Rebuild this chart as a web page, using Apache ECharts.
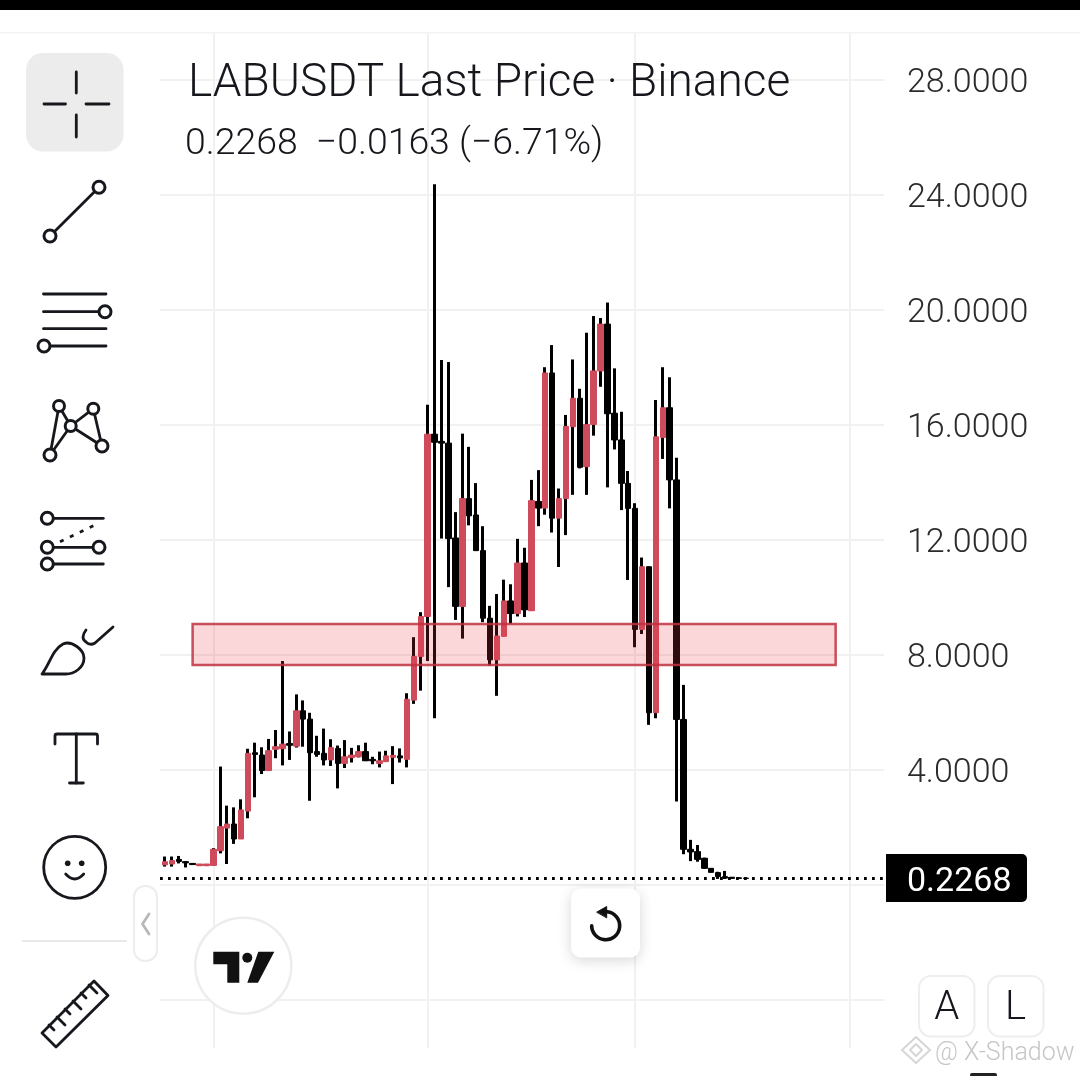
<!DOCTYPE html>
<html><head><meta charset="utf-8">
<style>html,body{margin:0;padding:0;background:#fff}#c{width:1080px;height:1076px}</style>
<script src="https://cdn.jsdelivr.net/npm/echarts@6/dist/echarts.min.js"></script>
</head><body><div id="c"></div>
<script>
const opens=[.70,.73,.89,.81,.75,.67,.67,.68,1.19,1.98,2.12,1.60,2.57,4.60,4.52,3.98,4.72,4.74,4.92,4.83,6.06,5.77,4.64,4.58,4.35,4.75,4.23,4.43,4.46,4.64,4.37,4.23,4.29,4.44,4.49,4.37,6.43,7.95,9.34,15.68,15.43,15.37,12.07,9.69,13.44,12.87,11.63,9.28,7.83,8.65,9.88,9.44,11.20,9.54,13.34,13.11,17.81,12.76,13.44,15.94,16.93,14.55,16.02,17.88,19.51,16.41,15.48,13.97,13.10,8.89,11.07,5.99,15.57,16.60,14.09,5.76,1.24,1.16,.93,.58,.43,.29,.27,.25,.24];
const closes=[.81,.85,.82,.77,.71,.73,.73,1.24,2.03,2.12,1.60,2.61,4.58,4.54,3.98,4.67,4.81,4.90,4.86,6.06,5.77,4.60,4.54,4.35,4.78,4.23,4.46,4.52,4.64,4.32,4.32,4.32,4.49,4.51,4.42,6.46,7.95,9.34,15.68,15.40,15.37,12.05,9.69,13.44,12.84,11.63,9.28,7.83,8.66,9.88,9.44,11.20,9.57,13.37,13.11,17.81,12.76,13.44,15.95,16.93,14.53,16.02,17.88,19.51,16.39,15.48,13.97,13.10,8.89,11.07,5.99,15.59,16.60,14.09,5.76,1.24,1.15,.89,.58,.44,.29,.24,.23,.23,.2268];
const lows=[.64,.64,.75,.61,.71,.67,.67,.68,1.10,.73,1.43,1.60,2.32,3.05,3.86,3.98,4.41,4.16,4.35,4.78,4.81,2.93,4.46,4.16,4.14,3.36,4.07,4.26,4.44,4.32,4.20,4.09,4.29,3.51,4.26,4.09,6.30,6.76,7.79,5.80,12.05,10.36,9.22,8.57,12.51,11.63,9.14,7.63,6.58,8.65,9.09,9.34,9.32,9.54,12.48,12.88,12.26,11.06,12.17,13.57,14.49,13.57,15.63,17.33,13.83,15.15,13.04,10.61,8.27,8.73,5.57,5.80,14.82,13.10,2.90,1.07,.83,.81,.56,.44,.21,.21,.21,.22,.22];
const highs=[.99,.99,1.01,.83,.75,.73,.73,1.28,4.12,2.76,2.70,2.98,4.74,4.95,4.79,5.08,5.39,7.79,5.34,6.63,6.42,5.99,5.19,5.44,5.07,4.85,5.04,4.77,4.86,4.95,4.46,4.64,4.67,4.83,4.75,6.67,8.62,9.49,16.70,24.37,18.26,18.19,12.97,15.70,15.24,13.98,12.48,9.71,10.12,10.62,10.46,12.04,11.73,14.09,14.43,18.01,18.78,13.79,16.35,18.28,17.26,19.21,19.79,19.72,20.26,17.97,16.46,14.40,13.28,11.39,11.07,16.87,18.01,17.66,14.86,6.96,1.57,1.39,.95,.58,.46,.49,.27,.26,.24];
const lastPrice=0.2268;
const zoneTop=9.08, zoneBottom=7.65;
const zoneStartIndex=4, zoneEndIndex=97;
const monthStartIndexes=[7,38,68,99];
const slotCount=105;
const categories=[];
for(let i=0;i<slotCount;i++){const d=new Date(Date.UTC(2025,6,25+i));categories.push(d.toISOString().slice(0,10));}

const INK='#16181d', RED='#cf4a5a', FONT='Roboto';
const s=(o)=>Object.assign({stroke:INK,lineWidth:2.8,fill:null,lineCap:'round',lineJoin:'round'},o);
const line=(x1,y1,x2,y2,st)=>({type:'line',shape:{x1,y1,x2,y2},style:s(st||{}),z:50,silent:true});
const ring=(cx,cy,r)=>({type:'circle',shape:{cx,cy,r},style:s({fill:'#fff',lineWidth:3}),z:52,silent:true});
let pathId=0;
const path=(d,st)=>{const n='iconPath'+(pathId++);echarts.graphic.registerShape(n,echarts.graphic.extendPath(d,{}));return {type:n,style:s(st||{}),z:50,silent:true};};
const text=(t,x,y,size,o)=>({type:'text',x,y,z:60,silent:true,style:Object.assign({text:t,font:`${(o&&o.weight)||300} ${size}px ${FONT}`,fill:'#15171c',verticalAlign:'middle',align:'left'},o||{})});
const box=(x,y,w,h,r,st)=>({type:'rect',shape:{x,y,width:w,height:h,r},style:st,z:48,silent:true});

const rulerTicks=[];
[[49,1025,54,1030],[57,1017,65,1025],[65,1009,70,1014],[73,1001,81,1009],[81,993,86,998],[89,985,97,993]].forEach(a=>rulerTicks.push(line(a[0],a[1],a[2],a[3])));

const graphics=[
 box(0,0,1080,10,0,{fill:'#000'}),
 box(0,32,1080,1.5,0,{fill:'#f3f3f3'}),
 // crosshair tool
 box(26,53,97.5,98.5,17,{fill:'#ececec'}),
 line(76.3,72,76.3,93),line(76.3,115,76.3,137),line(44,104,65.5,104),line(86,104,109,104),
 // trend line
 line(50,236,99,187.3),ring(99,187.3,6),ring(50,236,6),
 // fib lines
 line(43.5,294,106,294),line(43.5,311.7,105,311.7),line(43.5,328.7,106,328.7),line(44,346,106,346),ring(105,311.7,6),ring(44,346,6),
 // pattern
 line(59,406,50,455),line(59,406,70.7,426),line(70.7,426,50,455),line(70.7,426,93.3,408.7),line(93.3,408.7,102,446),line(70.7,426,102,446),
 ring(59,406,5.5),ring(93.3,408.7,5.5),ring(70.7,426,5.5),ring(50,455,6),ring(102,446,6),
 // forecast
 line(47,518.3,103.3,518.3),line(47,547.3,99,547.3),line(47,564,103.3,564),
 line(60,541.7,98.3,523.3,{lineDash:[4,7],lineCap:'butt'}),
 ring(47.3,518.3,6),ring(47.3,547.3,6),ring(99,547.3,6),ring(47.3,564,6),
 // brush
 path('M42 674 C50 664 52 650 63 644 C72 640 84 650 84 658 C84 668 74 674 66 674 Z'),
 path('M86 630 Q80 638 86 642 Q90 646 95 643 L113 627'),
 // text tool
 path('M55 744 L55 736 Q55 734 57 734 L95.5 734 Q97.5 734 97.5 736 L97.5 744'),line(76.3,734,76.3,783),line(69.5,783,83.3,783),
 // smile
 {type:'circle',shape:{cx:74.7,cy:867.3,r:31},style:s({}),z:50,silent:true},
 {type:'circle',shape:{cx:67.7,cy:863.3,r:2.8},style:{fill:INK},z:50,silent:true},
 {type:'circle',shape:{cx:81.7,cy:863.3,r:2.8},style:{fill:INK},z:50,silent:true},
 path('M65.7 874 Q74.7 884 83.7 874'),
 // separator
 line(23,941,126,941,{stroke:'#e8e8e8',lineWidth:2}),
 // ruler
 path('M42 1033 L94 981 L108 995.5 L56 1047 Z'),
 ...rulerTicks,
 // collapse handle
 box(134,886,23,75,11,{fill:'#fff',stroke:'#ededed',lineWidth:2}),
 path('M149 914 L142.5 924 L149 934',{stroke:'#b8b8b8'}),
 // logo
 {type:'circle',shape:{cx:243.3,cy:965.7,r:48},style:{fill:'#fff',stroke:'#ededed',lineWidth:2.5},z:48,silent:true},
 path('M213.3 951.7 L239.3 951.7 L239.3 982.7 L227.3 982.7 L227.3 964.3 L213.3 964.3 Z',{fill:'#111',stroke:null,lineWidth:0}),
 {type:'circle',shape:{cx:247.3,cy:957.7,r:5},style:{fill:'#111'},z:50,silent:true},
 path('M258.3 951.7 L274.3 951.7 L258 982.7 L247.3 982.7 Z',{fill:'#111',stroke:null,lineWidth:0}),
 // reset button
 {type:'rect',shape:{x:571,y:888.5,width:69,height:69,r:10},style:{fill:'#fff',shadowBlur:14,shadowColor:'rgba(0,0,0,0.16)',shadowOffsetY:3},z:48,silent:true},
 {type:'arc',shape:{cx:605.7,cy:925.7,r:14,startAngle:-Math.PI/2+0.1,endAngle:Math.PI,clockwise:true},style:{stroke:'#111',lineWidth:3.6,fill:null,lineCap:'round'},z:50,silent:true},
 path('M597 912 L606.7 906.5 L606.7 917.5 Z',{fill:'#111',stroke:'#111',lineWidth:1}),
 // last price label
 box(886,854,141,48,[0,5,5,0],{fill:'#000'}),
 text('0.2268',907,882,34,{fill:'#fff',weight:400}),
 // header
 text('LABUSDT Last Price · Binance',188,84,46),
 text('0.2268  \u22120.0163 (\u22126.71%)',185,145,37.4),
 // A / L buttons
 box(919,976,55.5,60.5,12,{fill:'#fff',stroke:'#eeeeee',lineWidth:2}),
 box(988,976,55.5,60.5,12,{fill:'#fff',stroke:'#eeeeee',lineWidth:2}),
 text('A',946.7,1009,40,{align:'center'}),
 text('L',1015.5,1009,40,{align:'center'}),
 // watermark
 path('M916 1037 L930 1050 L916 1063 L902 1050 Z M916 1044 L922 1050 L916 1056 L910 1050 Z',{stroke:'#d6d6d6',lineWidth:2}),
 text('@ X-Shadow',935,1054,25,{fill:'#c6c6c6',weight:300}),
 box(970,1073,27,4,3,{fill:'#222'})
];

const wickData=categories.slice(0,opens.length).map((c,i)=>[opens[i],closes[i],lows[i],highs[i]]);
const bodyData=categories.slice(0,opens.length).map((c,i)=>[opens[i],closes[i],Math.min(opens[i],closes[i]),Math.max(opens[i],closes[i])]);

const chart=echarts.init(document.getElementById('c'),null,{renderer:'canvas'});
chart.setOption({
 animation:false,
 backgroundColor:'#ffffff',
 grid:[
  {left:160,width:724,top:80,height:920,containLabel:false},
  {left:161.5,width:726,top:33,height:1015,containLabel:false}
 ],
 xAxis:[
  {gridIndex:0,type:'category',data:['a','b'],boundaryGap:false,show:false},
  {gridIndex:1,type:'category',data:categories,show:false}
 ],
 yAxis:[
  {gridIndex:0,type:'value',position:'right',min:-4,max:28,interval:4,
   axisLine:{show:false},axisTick:{show:false},
   axisLabel:{margin:23,formatter:v=>v<0?'':'{t|'+v.toFixed(4)+'}',showMinLabel:true,showMaxLabel:true,
     rich:{t:{color:'#2b2b2b',fontFamily:FONT,fontSize:34,fontWeight:300,padding:[6,0,0,0]}}},
   splitLine:{show:true,lineStyle:{color:'#f1f1f1',width:2}}},
  {gridIndex:1,type:'value',min:-5.67,max:29.635,show:false,splitLine:{show:false}}
 ],
 series:[
  {name:'Last price',type:'line',xAxisIndex:0,yAxisIndex:0,data:[lastPrice,lastPrice],symbol:'none',silent:true,z:8,
   lineStyle:{color:'#000',width:2.8,type:[2.8,5.2],cap:'butt'}},
  {name:'Wicks',type:'candlestick',xAxisIndex:1,yAxisIndex:1,data:wickData,barWidth:1,z:3,silent:true,
   itemStyle:{color:'#000',color0:'#000',borderColor:'#000',borderColor0:'#000',borderWidth:3},
   markLine:{silent:true,symbol:'none',z:0,label:{show:false},
     lineStyle:{color:'#f1f1f1',width:2,type:'solid'},
     data:monthStartIndexes.map(i=>({xAxis:categories[i]}))}},
  {name:'Bodies',type:'candlestick',xAxisIndex:1,yAxisIndex:1,data:bodyData,barWidth:6,z:4,silent:true,
   itemStyle:{color:RED,color0:'#000',borderColor:RED,borderColor0:'#000',borderWidth:1},
   markArea:{silent:true,z:6,label:{show:false},
     itemStyle:{color:'rgba(242,54,69,0.2)',borderColor:'rgba(190,50,65,0.85)',borderWidth:2.5},
     data:[[{xAxis:categories[zoneStartIndex],yAxis:zoneTop},{xAxis:categories[zoneEndIndex],yAxis:zoneBottom}]]}}
 ],
 graphic:{elements:graphics}
});
</script></body></html>
